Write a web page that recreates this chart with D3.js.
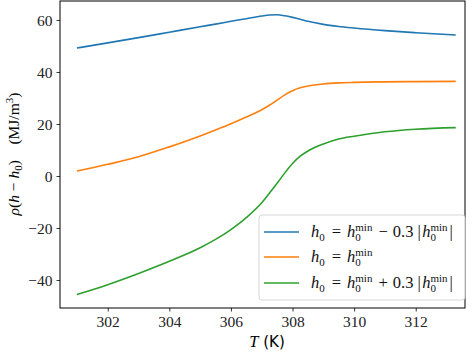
<!DOCTYPE html>
<html>
<head>
<meta charset="utf-8">
<script src="https://cdn.jsdelivr.net/npm/d3@7"></script>
<style>
  body { margin: 0; background: #fff; }
  text { font-family: "Liberation Serif", "DejaVu Serif", serif; white-space: pre; }
</style>
</head>
<body>
<script>
// temperature samples (K)
const temps = [301, 302, 303, 304, 305, 305.5, 306, 306.5, 307, 307.25, 307.5, 307.75, 308, 308.25, 308.5, 309, 309.5, 310, 311, 312, 313.3];
// rho (h - h0) in MJ/m^3 for the three choices of h0
const minus03 = [49.2, 51.2, 53.2, 55.3, 57.4, 58.4, 59.5, 60.5, 61.5, 61.9, 62.0, 61.6, 61.0, 60.3, 59.5, 58.3, 57.5, 56.9, 55.9, 55.1, 54.2];
const hmin = [1.9, 4.5, 7.4, 11.2, 15.4, 17.7, 20.1, 22.7, 25.5, 27.2, 29.2, 31.2, 32.8, 33.9, 34.6, 35.4, 35.8, 36.0, 36.2, 36.3, 36.4];
const plus03 = [-45.6, -41.8, -37.5, -32.8, -27.6, -24.4, -20.6, -16.0, -10.3, -6.6, -2.8, 1.2, 4.8, 7.6, 9.6, 12.3, 14.2, 15.3, 17.0, 18.0, 18.6];
const seriesColors = ["#1f77b4", "#ff7f0e", "#2ca02c"];
const xTicks = [302, 304, 306, 308, 310, 312];
const yTicks = [-40, -20, 0, 20, 40, 60];

const W = 474, H = 352;
const margin = {top: 1, right: 9, bottom: 44, left: 60};

const svg = d3.select("body").append("svg")
  .attr("width", W).attr("height", H);

const x = d3.scaleLinear().domain([300.45, 313.6]).range([margin.left, W - margin.right]);
const y = d3.scaleLinear().domain([-50.77, 67.3]).range([H - margin.bottom, margin.top]);

const fmt = d => (d < 0 ? "\u2212" + Math.abs(d) : "" + d);

// axes
const gx = svg.append("g")
  .attr("transform", `translate(0,${H - margin.bottom})`)
  .call(d3.axisBottom(x).tickValues(xTicks).tickSize(3.5).tickPadding(4).tickSizeOuter(0));
const gy = svg.append("g")
  .attr("transform", `translate(${margin.left},0)`)
  .call(d3.axisLeft(y).tickValues(yTicks).tickFormat(fmt).tickSize(3.5).tickPadding(4).tickSizeOuter(0));
[gx, gy].forEach(g => {
  g.select(".domain").remove();
  g.selectAll("line").attr("stroke", "#000").attr("stroke-width", 0.8);
  g.selectAll("text").attr("font-family", "Liberation Serif").attr("font-size", 15.5).attr("fill", "#222");
});
gy.selectAll("text").attr("dy", "0.34em");

// frame
svg.append("rect")
  .attr("x", margin.left).attr("y", margin.top)
  .attr("width", W - margin.left - margin.right)
  .attr("height", H - margin.top - margin.bottom)
  .attr("fill", "none").attr("stroke", "#000").attr("stroke-width", 1);

// lines
const line = d3.line()
  .x((d, i) => x(temps[i]))
  .y(d => y(d))
  .curve(d3.curveMonotoneX);

[minus03, hmin, plus03].forEach((s, i) => {
  svg.append("path")
    .datum(s)
    .attr("fill", "none")
    .attr("stroke", seriesColors[i])
    .attr("stroke-width", 1.6)
    .attr("d", line);
});

// x label
const xl = svg.append("text")
  .attr("x", 267).attr("y", 347).attr("text-anchor", "middle").attr("font-size", 16.5);
xl.append("tspan").attr("font-style", "italic").text("T");
xl.append("tspan").attr("font-family", "DejaVu Sans").attr("font-size", 15).text(" (K)");

// y label
const yl = svg.append("text")
  .attr("transform", "translate(19,154) rotate(-90)")
  .attr("text-anchor", "middle").attr("font-size", 15.5);
yl.append("tspan").attr("font-style", "italic").text("\u03C1");
yl.append("tspan").text("(");
yl.append("tspan").attr("font-style", "italic").text("h");
yl.append("tspan").text(" \u2212 ");
yl.append("tspan").attr("font-style", "italic").text("h");
yl.append("tspan").attr("font-size", 11).attr("dy", 3).text("0");
yl.append("tspan").attr("dy", -3).text(")\u2003(MJ/m");
yl.append("tspan").attr("font-size", 11).attr("dy", -6).text("3");
yl.append("tspan").attr("dy", 6).text(")");

// legend
const lg = svg.append("g");
lg.append("rect")
  .attr("x", 259).attr("y", 215).attr("width", 206).attr("height", 85)
  .attr("rx", 3).attr("fill", "#fff").attr("fill-opacity", 0.85)
  .attr("stroke", "#d6d6d6").attr("stroke-width", 1);

const rowsY = [232, 257, 283];
const mainSize = 16.5, scriptSize = 11;

function mathRow(g, x0, yb, parts) {
  let cx = x0;
  const put = (txt, size, dy, italic) => {
    const t = g.append("text").attr("x", cx).attr("y", yb + dy)
      .attr("font-size", size).attr("fill", "#111")
      .attr("font-style", italic ? "italic" : "normal")
      .text(txt);
    return t.node().getComputedTextLength();
  };
  parts.forEach(p => {
    if (p.stack) {
      const w1 = put("min", scriptSize, -6.5, false);
      const w2 = put("0", scriptSize, 4, false);
      cx += Math.max(w1, w2) + 1;
    } else if (p.sub) {
      cx += put(p.sub, scriptSize, 4, false) + 1;
    } else if (p.gap) {
      cx += p.gap;
    } else {
      cx += put(p.t, mainSize, 0, p.it);
    }
  });
}

const hEq = [{t: "h", it: true}, {sub: "0"}, {gap: 6}, {t: "="}, {gap: 6}, {t: "h", it: true}, {stack: true}];
const absTerm = [{gap: 4}, {t: "|"}, {gap: 1.5}, {t: "h", it: true}, {stack: true}, {gap: 1}, {t: "|"}];
const legendRows = [
  hEq.concat([{gap: 5}, {t: "\u2212"}, {gap: 5}, {t: "0.3"}], absTerm),
  hEq,
  hEq.concat([{gap: 5}, {t: "+"}, {gap: 5}, {t: "0.3"}], absTerm)
];

legendRows.forEach((parts, i) => {
  lg.append("line")
    .attr("x1", 264).attr("x2", 299)
    .attr("y1", rowsY[i]).attr("y2", rowsY[i])
    .attr("stroke", seriesColors[i]).attr("stroke-width", 1.6);
  mathRow(lg, 311, rowsY[i] + 5, parts);
});
</script>
</body>
</html>
